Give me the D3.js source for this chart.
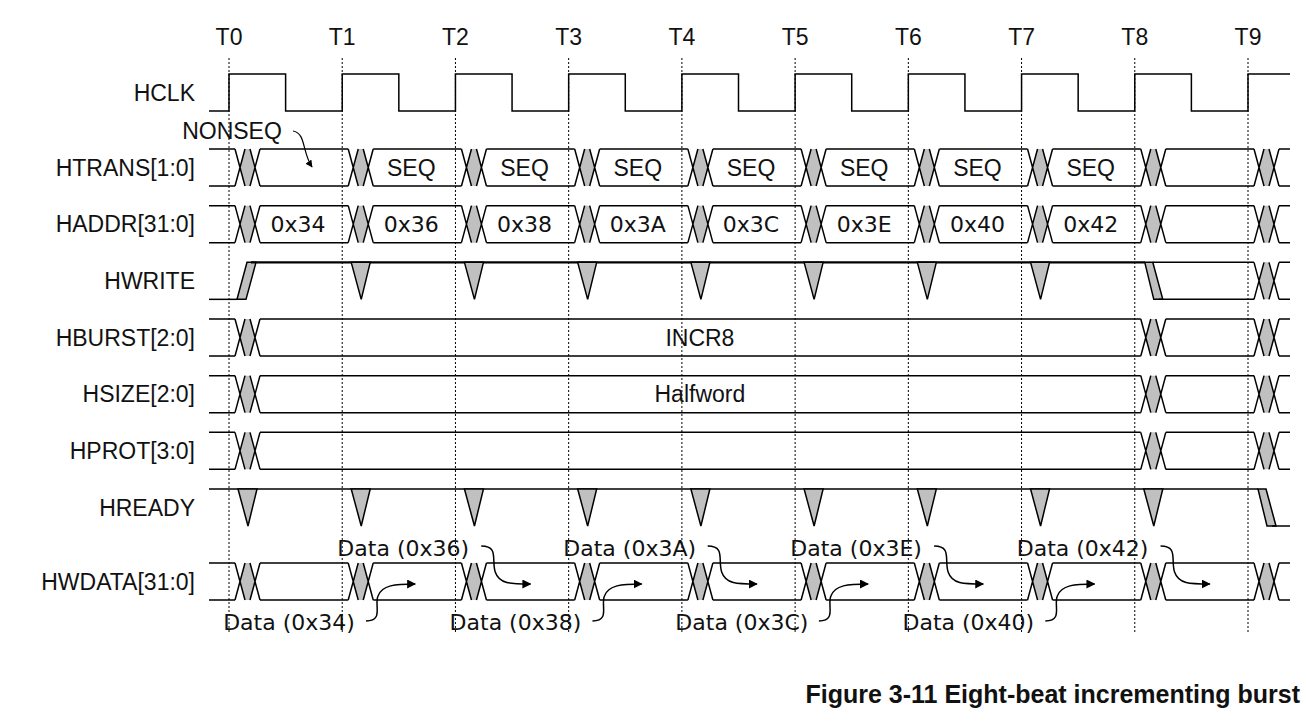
<!DOCTYPE html>
<html><head><meta charset="utf-8">
<script src="https://cdn.jsdelivr.net/npm/d3@7"></script>
<style>body{margin:0;background:#fff}</style></head>
<body><svg id="c" width="1306" height="721"></svg>
<script>
const timeLabels = ["T0","T1","T2","T3","T4","T5","T6","T7","T8","T9"];
const signalNames = ["HCLK","HTRANS[1:0]","HADDR[31:0]","HWRITE","HBURST[2:0]","HSIZE[2:0]","HPROT[3:0]","HREADY","HWDATA[31:0]"];
const htransValues = ["", "SEQ","SEQ","SEQ","SEQ","SEQ","SEQ","SEQ"];
const haddrValues = ["0x34","0x36","0x38","0x3A","0x3C","0x3E","0x40","0x42"];
const dataTop = ["Data (0x36)","Data (0x3A)","Data (0x3E)","Data (0x42)"];
const dataBottom = ["Data (0x34)","Data (0x38)","Data (0x3C)","Data (0x40)"];
const busCross = {
  "HTRANS[1:0]":[0,1,2,3,4,5,6,7,8,9],
  "HADDR[31:0]":[0,1,2,3,4,5,6,7,8,9],
  "HBURST[2:0]":[0,8,9],"HSIZE[2:0]":[0,8,9],"HPROT[3:0]":[0,8,9],
  "HWDATA[31:0]":[0,1,2,3,4,5,6,7,8,9]
};

const svg = d3.select("#c");
const x = d3.scaleLinear().domain([0,9]).range([229,1248]);
const P = x(1)-x(0);
const rowScale = d3.scaleLinear().domain([1,7]).range([149,489]);
const rowTop = i => i===0 ? 74 : (i===8 ? 563 : rowScale(i));
const H = 37;
const X0 = 209, X1 = 1290;
const font = "Liberation Sans, Arial, sans-serif";
const tf="DejaVu Sans, Verdana, sans-serif";
const ink = "#111";

svg.append("defs").append("marker").attr("id","ah").attr("viewBox","0 0 10 10")
  .attr("refX",9).attr("refY",5).attr("markerWidth",6).attr("markerHeight",6)
  .attr("markerUnits","strokeWidth").attr("orient","auto")
  .append("path").attr("d","M0,0L10,5L0,10z").attr("fill","#000");

svg.selectAll(".tl").data(timeLabels).join("line")
  .attr("x1",(d,i)=>x(i)).attr("x2",(d,i)=>x(i)).attr("y1",58).attr("y2",632)
  .attr("stroke","#000").attr("stroke-width",1).attr("stroke-dasharray","2,2");
svg.selectAll(".tt").data(timeLabels).join("text")
  .attr("x",(d,i)=>x(i)).attr("y",45).attr("text-anchor","middle")
  .attr("font-family",font).attr("font-size",23).attr("fill",ink).text(d=>d);

svg.selectAll(".sn").data(signalNames).join("text")
  .attr("x",195).attr("y",(d,i)=>rowTop(i)+H/2+8).attr("text-anchor","end")
  .attr("font-family",font).attr("font-size",23).attr("fill",ink).text(d=>d);

const g = svg.append("g").attr("fill","none").attr("stroke","#000").attr("stroke-width",1.5);
const line = d3.line();

{
  const top=rowTop(0), bot=top+H; const pts=[[X0,bot]];
  for(let i=0;i<=9;i++){ const a=x(i), m=x(i)+P/2;
    pts.push([a,bot],[a,top]); if(i<9){pts.push([m,top],[m,bot]);} else {pts.push([X1,top]);} }
  g.append("path").attr("d",line(pts));
}

function crossing(top,bot,a,b){
  const mid=(top+bot)/2, w=10;
  g.append("path").attr("fill","#c0c0c0").attr("stroke","none")
    .attr("d",line([[a+w/2,mid],[a+w,top],[b-w,top],[b-w/2,mid],[b-w,bot],[a+w,bot]])+"Z");
  g.append("path").attr("d",line([[a,top],[a+w,bot]])+line([[a,bot],[a+w,top]])
    +line([[b-w,top],[b,bot]])+line([[b-w,bot],[b,top]]));
}
function bus(row,cross){
  const top=rowTop(row), bot=top+H;
  let start=X0;
  cross.forEach(c=>{ const a=x(c)+6,b=x(c)+31;
    g.append("path").attr("d",line([[start,top],[a,top]])+line([[start,bot],[a,bot]]));
    crossing(top,bot,a,b); start=b; });
  g.append("path").attr("d",line([[start,top],[X1,top]])+line([[start,bot],[X1,bot]]));
}
signalNames.forEach((s,i)=>{ if(busCross[s]) bus(i,busCross[s]); });

function tri(row,c){
  const top=rowTop(row);
  g.append("path").attr("fill","#c0c0c0")
    .attr("d",line([[x(c)+9,top],[x(c)+28,top],[x(c)+19,top+H]])+"Z");
}
{
  const r=3, top=rowTop(r), bot=top+H;
  g.append("path").attr("d",line([[X0,bot],[x(0)+8,bot]]));
  g.append("path").attr("fill","#c0c0c0").attr("d",line([[x(0)+8,bot],[x(0)+17,bot],[x(0)+27,top],[x(0)+18,top]])+"Z");
  g.append("path").attr("stroke-width",2.4).attr("d",line([[x(0)+22,top],[x(8)+10,top]]));
  for(let c=1;c<=7;c++) tri(r,c);
  g.append("path").attr("fill","#c0c0c0").attr("d",line([[x(8)+10,top],[x(8)+18,top],[x(8)+28,bot],[x(8)+19,bot]])+"Z");
  g.append("path").attr("d",line([[x(8)+18,top],[x(9)+6,top]])+line([[x(8)+24,bot],[x(9)+6,bot]]));
  crossing(top,bot,x(9)+6,x(9)+31);
  g.append("path").attr("d",line([[x(9)+31,top],[X1,top]])+line([[x(9)+31,bot],[X1,bot]]));
}
{
  const r=7, top=rowTop(r), bot=top+H;
  g.append("path").attr("d",line([[X0,top],[x(9)+10,top]]));
  for(let c=0;c<=8;c++) tri(r,c);
  g.append("path").attr("fill","#c0c0c0").attr("d",line([[x(9)+10,top],[x(9)+18,top],[x(9)+28,bot],[x(9)+19,bot]])+"Z");
  g.append("path").attr("d",line([[x(9)+24,bot],[X1,bot]]));
}

function cellText(row,c,t,f,fs){
  svg.append("text").attr("x",x(c)+31+(P-37)/2).attr("y",rowTop(row)+H/2+8)
   .attr("text-anchor","middle").attr("font-family",f).attr("font-size",fs).attr("fill",ink).text(t);
}
htransValues.forEach((t,i)=>{ if(t) cellText(1,i,t,font,23); });
haddrValues.forEach((t,i)=>cellText(2,i,t,tf,22));
svg.append("text").attr("x",x(4)+18).attr("y",rowTop(4)+H/2+8).attr("text-anchor","middle")
  .attr("font-family",font).attr("font-size",23).attr("fill",ink).text("INCR8");
svg.append("text").attr("x",x(4)+18).attr("y",rowTop(5)+H/2+8).attr("text-anchor","middle")
  .attr("font-family",font).attr("font-size",23).attr("fill",ink).text("Halfword");

svg.append("text").attr("x",232).attr("y",139).attr("text-anchor","middle")
  .attr("font-family",font).attr("font-size",23).attr("fill",ink).text("NONSEQ");
g.append("path").attr("marker-end","url(#ah)").attr("stroke-width",1.2)
  .attr("d","M293,131 C306,133 302,152 312,167");

dataBottom.forEach((t,k)=>{
  const c=2*k, cx=x(c)+60;
  svg.append("text").attr("x",cx).attr("y",630).attr("text-anchor","middle")
    .attr("font-family",tf).attr("font-size",22).attr("fill",ink).text(t);
  const sx=x(c)+137, ex=x(c+1)+73;
  g.append("path").attr("marker-end","url(#ah)")
    .attr("d",`M${sx},621 C${sx+18},621 ${sx+8},605 ${sx+12},596 C${sx+16},585 ${ex-20},584 ${ex},584`);
});
dataTop.forEach((t,k)=>{
  const c=2*k+1, cx=x(c)+61;
  svg.append("text").attr("x",cx).attr("y",556).attr("text-anchor","middle")
    .attr("font-family",tf).attr("font-size",22).attr("fill",ink).text(t);
  const sx=x(c)+139, ex=x(c+1)+75;
  g.append("path").attr("marker-end","url(#ah)")
    .attr("d",`M${sx},546 C${sx+18},546 ${sx+10},560 ${sx+14},572 C${sx+18},584 ${ex-20},584 ${ex},584`);
});

svg.append("text").attr("x",1300).attr("y",703).attr("text-anchor","end")
  .attr("font-family",font).attr("font-weight","bold").attr("font-size",25).attr("fill",ink)
  .text("Figure 3-11 Eight-beat incrementing burst");
</script></body></html>
